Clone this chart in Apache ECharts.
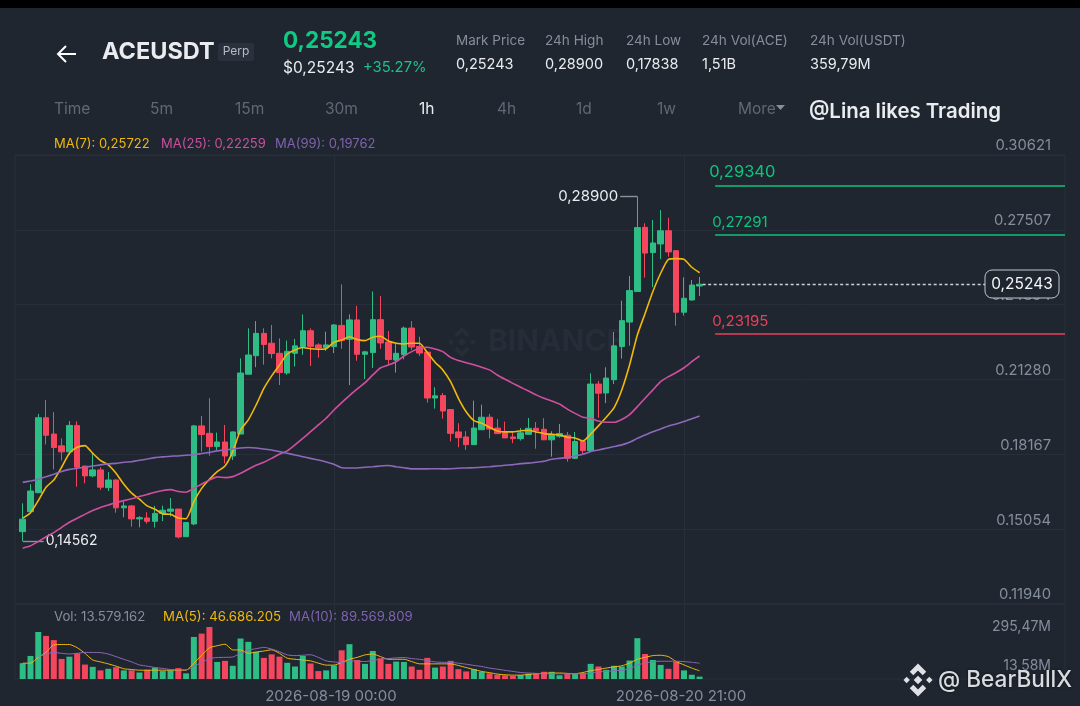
<!DOCTYPE html>
<html>
<head>
<meta charset="utf-8">
<style>html,body{margin:0;padding:0;background:#000}#c{width:1080px;height:706px}</style>
<script src="https://cdn.jsdelivr.net/npm/echarts@6/dist/echarts.min.js"></script>
</head>
<body>
<div id="c"></div>
<script>
const opens = [.1495,.1578,.1657,.1969,.1901,.1852,.1827,.1937,.1768,.1727,
.1752,.1678,.1710,.1594,.1602,.1548,.1552,.1538,.1571,.1580,
.1589,.1474,.1527,.1935,.1904,.1849,.1868,.1810,.1901,.2150,
.2227,.2320,.2279,.2237,.2155,.2237,.2265,.2331,.2272,.2261,
.2265,.2353,.2295,.2376,.2233,.2240,.2377,.2284,.2209,.2231,
.2342,.2266,.2242,.2051,.2061,.2003,.1910,.1889,.1857,.1919,
.1971,.1926,.1907,.1889,.1882,.1900,.1925,.1921,.1877,.1892,
.1896,.1800,.1870,.1832,.2109,.2072,.2127,.2265,.2367,.2494,
.2761,.2656,.2692,.2747,.2664,.2408,.2459,.2517];
const highs = [.1613,.1692,.1985,.2043,.1992,.1883,.1955,.1954,.1768,.1818,
.1763,.1743,.1713,.1620,.1606,.1560,.1576,.1602,.1603,.1635,
.1589,.1533,.1939,.1976,.2050,.1907,.1939,.1912,.2216,.2341,
.2371,.2341,.2355,.2299,.2290,.2297,.2399,.2341,.2279,.2327,
.2359,.2524,.2399,.2434,.2247,.2494,.2475,.2330,.2276,.2348,
.2371,.2306,.2242,.2096,.2072,.2003,.1946,.1913,.2040,.2023,
.1985,.1964,.1953,.1907,.1926,.1968,.1951,.1967,.1913,.1943,
.1910,.1910,.1872,.2154,.2122,.2179,.2326,.2456,.2559,.2890,
.2778,.2792,.2833,.2801,.2667,.2553,.2542,.2555];
const lows = [.14562,.1570,.1657,.1858,.1754,.1791,.1814,.1682,.1696,.1721,
.1669,.1664,.1574,.1555,.1516,.1513,.1528,.1512,.1539,.1558,
.1467,.1474,.1522,.1828,.1811,.1835,.1779,.1793,.1901,.2150,
.2179,.2190,.2216,.2105,.2148,.2182,.2231,.2184,.2219,.2247,
.2238,.2256,.2105,.2206,.2130,.2176,.2256,.2190,.2157,.2212,
.2251,.2226,.2032,.2007,.1965,.1870,.1846,.1835,.1856,.1918,
.1883,.1902,.1885,.1863,.1874,.1900,.1840,.1877,.1807,.1886,
.1786,.1797,.1818,.1832,.1969,.2030,.2109,.2215,.2269,.2494,
.2552,.2512,.2629,.2639,.2352,.2394,.2456,.2475];
const closes = [.1547,.1664,.1969,.1896,.1845,.1827,.1937,.1763,.1727,.1752,
.1680,.1710,.1594,.1602,.1548,.1553,.1538,.1571,.1584,.1589,
.1473,.1533,.1935,.1899,.1849,.1868,.1810,.1910,.2155,.2230,
.2320,.2274,.2236,.2157,.2245,.2268,.2331,.2266,.2259,.2272,
.2355,.2290,.2376,.2233,.2243,.2377,.2280,.2211,.2237,.2342,
.2263,.2238,.2051,.2060,.1997,.1904,.1886,.1857,.1926,.1971,
.1922,.1903,.1885,.1882,.1906,.1925,.1915,.1877,.1900,.1903,
.1800,.1870,.1832,.2109,.2071,.2134,.2268,.2373,.2498,.2760,
.2654,.2696,.2747,.2659,.2408,.2466,.2521,.25243];
const ma7 = [.1551,.1574,.1624,.1680,.1710,.1763,.1821,.1846,.1853,.1821,
.1791,.1773,.1738,.1692,.1655,.1630,.1602,.1588,.1569,.1567,
.1552,.1549,.1620,.1675,.1713,.1745,.1768,.1828,.1918,.1960,
.2022,.2091,.2143,.2188,.2234,.2251,.2261,.2256,.2254,.2256,
.2283,.2292,.2306,.2294,.2290,.2304,.2308,.2288,.2279,.2276,
.2279,.2279,.2240,.2200,.2168,.2119,.2050,.1994,.1957,.1946,
.1929,.1914,.1910,.1910,.1915,.1917,.1910,.1903,.1900,.1897,
.1888,.1885,.1872,.1901,.1935,.1971,.2010,.2084,.2188,.2313,
.2403,.2494,.2570,.2628,.2631,.2628,.2595,.25722];
const ma25 = [.1426,.1436,.1454,.1474,.1491,.1513,.1534,.1551,.1567,.1583,
.1596,.1606,.1616,.1624,.1632,.1641,.1650,.1659,.1666,.1670,
.1662,.1659,.1675,.1693,.1710,.1723,.1720,.1724,.1738,.1755,
.1771,.1784,.1800,.1817,.1831,.1856,.1883,.1911,.1939,.1967,
.2001,.2032,.2061,.2089,.2115,.2147,.2177,.2188,.2202,.2226,
.2244,.2258,.2262,.2255,.2244,.2220,.2207,.2198,.2189,.2179,
.2168,.2147,.2129,.2112,.2096,.2080,.2064,.2050,.2039,.2026,
.2005,.1987,.1971,.1967,.1955,.1950,.1950,.1962,.1982,.2015,
.2050,.2085,.2119,.2140,.2157,.2177,.2202,.22259];
const ma99 = [.1700,.1706,.1713,.1723,.1734,.1745,.1754,.1759,.1763,.1768,
.1773,.1777,.1779,.1784,.1786,.1792,.1797,.1803,.1806,.1809,
.1810,.1813,.1815,.1820,.1825,.1831,.1835,.1839,.1843,.1845,
.1843,.1839,.1835,.1828,.1821,.1814,.1807,.1800,.1793,.1785,
.1775,.1761,.1760,.1760,.1763,.1765,.1768,.1770,.1765,.1761,
.1756,.1756,.1756,.1757,.1756,.1757,.1759,.1760,.1761,.1763,
.1765,.1768,.1771,.1774,.1778,.1780,.1784,.1788,.1796,.1800,
.1804,.1810,.1817,.1828,.1835,.1842,.1849,.1856,.1867,.1883,
.1897,.1911,.1922,.1935,.1943,.1953,.1965,.19762];
const volumes = [90,131,267,245,221,114,127,146,82,69,
49,58,67,49,49,37,52,65,45,49,
62,32,239,258,295.47,97,103,75,230,211,
155,120,140,127,92,71,131,88,45,49,
77,163,198,108,86,159,118,86,99,97,
71,52,120,65,71,103,56,43,56,41,
32,24,21,17,22,30,30,41,41,21,
30,28,34,86,71,52,75,71,105,232,
142,108,80,58,99,49,24,13.58];
const volMa5 = [90,90,123,151,194,196,196,178,146,108,
97,86,73,58,54,50,50,50,50,50,
50,50,90,135,178,189,198,165,165,146,
153,159,166,146,118,112,108,103,90,79,
79,94,112,123,137,142,127,112,112,112,
99,86,86,86,86,86,77,65,54,43,
36,28,24,22,22,26,30,32,34,34,
32,30,37,47,54,62,69,75,90,112,
123,133,135,127,99,80,62,46.69];
const volMa10 = [null,null,127,142,151,146,142,146,151,151,
150,142,127,112,97,80,73,65,60,54,
52,52,71,94,116,122,123,125,146,165,
172,180,170,155,137,133,135,138,123,103,
97,94,103,101,99,105,112,116,120,122,
116,112,105,97,95,94,90,84,77,71,
62,56,49,43,37,34,32,30,30,30,
30,30,30,32,41,43,47,49,58,80,
90,99,101,101,101,99,95,89.57];
const priceTicks = [0.1194,0.15054,0.18167,0.2128,0.24394,0.27507,0.30621];
const xTickIndex = [40,85];
const xTickLabels = {40:'2026-08-19 00:00',85:'2026-08-20 21:00'};
const targets = [0.2934,0.27291];
const stop = 0.23195;
const lastPrice = 0.25243;
const highMark = 0.289, lowMark = 0.14562;
const volTickLabels = ['295,47M','13,58M'];

const BG='#1f2630', GRID='#282f3a', UP='#2ebd85', DOWN='#f6465d', LEVELUP='#0fc27c', LEVELDOWN='#e8415a';
const comma = v => v.toFixed(5).replace('.',',');

function T(x,y,text,size,color,weight,extra){
  return {type:'text',x:x,y:y,z:50,silent:true,style:Object.assign({text:text,fontSize:size,fill:color,fontWeight:weight||400,fontFamily:'Inter',verticalAlign:'middle',align:'left'},extra||{})};
}
function diamond(cx,cy,r,fill,z){
  return {type:'polygon',z:z,silent:true,shape:{points:[[cx,cy-r],[cx+r,cy],[cx,cy+r],[cx-r,cy]]},style:{fill:fill}};
}
function logo(cx,cy,u,col,z,w){
  const chev=(s)=>({type:'polyline',z:z,silent:true,shape:{points:[[cx-2.4*u,cy+s*2.4*u],[cx,cy+s*4.8*u],[cx+2.4*u,cy+s*2.4*u]]},style:{stroke:col,lineWidth:w,fill:null}});
  return [diamond(cx,cy,1.6*u,col,z),diamond(cx-4.2*u,cy,1.2*u,col,z),diamond(cx+4.2*u,cy,1.2*u,col,z),chev(-1),chev(1)];
}
const MUTED='#848e9c', TAB='#5f6874', BRIGHT='#eaecef';
const graphics = [
  {type:'rect',z:60,silent:true,shape:{x:0,y:0,width:1080,height:8},style:{fill:'#000'}},
  {type:'polyline',z:50,silent:true,shape:{points:[[76,54],[58,54]]},style:{stroke:'#fff',lineWidth:2,fill:null}},
  {type:'polyline',z:50,silent:true,shape:{points:[[66,46],[58,54],[66,62]]},style:{stroke:'#fff',lineWidth:2,fill:null}},
  T(102,52,'ACEUSDT',23.5,BRIGHT,700),
  {type:'rect',z:49,silent:true,shape:{x:218,y:43,width:36,height:18,r:2},style:{fill:'#2a313c'}},
  T(236,51.5,'Perp',12,'#b7bdc6',400,{align:'center'}),
  T(283,41,'0,25243',22.5,'#10c983',700),
  T(283,68,'$0,25243',15.5,BRIGHT),
  T(363,68,'+35.27%',14.8,'#1fc08a'),
  T(456,41,'Mark Price',13.5,MUTED),T(456,65,'0,25243',14.5,BRIGHT),
  T(545,41,'24h High',13.6,MUTED),T(545,65,'0,28900',14.5,BRIGHT),
  T(626,41,'24h Low',13.5,MUTED),T(626,65,'0,17838',14.5,BRIGHT),
  T(702,41,'24h Vol(ACE)',13.6,MUTED),T(702,65,'1,51B',14.5,BRIGHT),
  T(810,41,'24h Vol(USDT)',13.6,MUTED),T(810,65,'359,79M',14.5,BRIGHT),
  T(54,109,'Time',15.5,TAB),T(150,109,'5m',15.5,TAB),T(235,109,'15m',15.5,TAB),T(325,109,'30m',15.5,TAB),
  T(419,109,'1h',15.5,BRIGHT),T(497,109,'4h',15.5,TAB),T(576,109,'1d',15.5,TAB),T(657,109,'1w',15.5,TAB),T(738,109,'More',15.5,TAB),
  {type:'polygon',z:50,silent:true,shape:{points:[[776,105],[785,105],[780.5,110]]},style:{fill:'#848e9c'}},
  T(809,112,'@Lina likes Trading',20.4,BRIGHT,600),
  T(54,144,'MA(7): 0,25722',13,'#f0b90b'),T(161,144,'MA(25): 0,22259',13,'#c94f9f'),T(275,144,'MA(99): 0,19762',13,'#7e62ad'),
  T(54,617,'Vol: 13.579.162',13.2,MUTED),T(163,617,'MA(5): 46.686.205',13.2,'#f0b90b'),T(289,617,'MA(10): 89.569.809',13.2,'#7e62ad'),
  T(1051,627,volTickLabels[0],14,MUTED,400,{align:'right'}),
  T(1051,666,volTickLabels[1],14,MUTED,400,{align:'right'}),
  T(488,342,'BINANCE',30,'#262d38',700,{}),
  {type:'rect',z:70,silent:true,shape:{x:985,y:270,width:74,height:28,r:7},style:{fill:BG,stroke:'#c3c7cd',lineWidth:1}},
  T(1022,284.5,comma(lastPrice),15.5,'#f5f5f5',400,{align:'center'}),
  T(938,680,'@ BearBullX',22.6,'#d9dcdf',500,{letterSpacing:0.4,textShadowColor:'rgba(0,0,0,.6)',textShadowBlur:3})
];
graphics[graphics.length-2].z=71; graphics[graphics.length-1].z=72;
graphics[graphics.length-4].z=0;
logo(462,342,2.6,'#262d38',0,4).forEach(g=>graphics.push(g));
logo(918,680,2.7,'#dfe1e4',72,5).forEach(g=>graphics.push(g));

const xMin=-0.99,xMax=133.97;
const idx=opens.map((_,i)=>i);
const levelLine=(v,col,x0,size)=>[{coord:[89,v],lineStyle:{color:col,width:1.6,type:'solid'},
  label:{show:true,position:'insideStartTop',formatter:comma(v),color:col,fontSize:size,fontFamily:'Inter',distance:[x0,5]}},{coord:[xMax,v]}];
const option={
  animation:false,
  backgroundColor:BG,
  graphic:graphics,
  grid:[
    {left:15,width:1050,top:155,height:449,show:true,borderColor:GRID,borderWidth:1},
    {left:15,width:1050,top:604,height:75,show:true,borderColor:GRID,borderWidth:1}
  ],
  xAxis:[
    {type:'value',gridIndex:0,min:xMin,max:xMax,axisLine:{show:false},axisTick:{show:false,customValues:xTickIndex},axisLabel:{show:false,customValues:xTickIndex},splitLine:{show:true,lineStyle:{color:GRID,width:1}}},
    {type:'value',gridIndex:1,min:xMin,max:xMax,axisLine:{show:false},axisTick:{show:false,customValues:xTickIndex},
      axisLabel:{show:true,customValues:xTickIndex,formatter:v=>xTickLabels[v],color:MUTED,fontSize:15,fontFamily:'Inter',margin:10,padding:[0,6,0,0]},
      splitLine:{show:true,lineStyle:{color:GRID,width:1}}}
  ],
  yAxis:[
    {type:'value',gridIndex:0,position:'right',min:0.1194,max:0.30621,axisLine:{show:false},axisTick:{show:false,customValues:priceTicks},
      axisLabel:{show:true,inside:true,customValues:priceTicks,formatter:v=>v.toFixed(5),color:MUTED,fontSize:14.8,fontFamily:'Inter',margin:14,verticalAlign:'bottom',lineHeight:18},
      splitLine:{show:true,lineStyle:{color:GRID,width:1}}},
    {type:'value',gridIndex:1,position:'right',min:0,max:426.2,axisLine:{show:false},axisTick:{show:false},axisLabel:{show:false},splitLine:{show:false}}
  ],
  series:[
    {type:'candlestick',xAxisIndex:0,yAxisIndex:0,barWidth:6,z:3,
      data:idx.map(i=>[i,opens[i],closes[i],lows[i],highs[i]]),
      itemStyle:{color:UP,color0:DOWN,borderColor:UP,borderColor0:DOWN,borderWidth:1},
      markLine:{silent:true,symbol:'none',animation:false,data:[
        levelLine(targets[0],LEVELUP,-6,16.5),
        levelLine(targets[1],LEVELUP,-3,15),
        levelLine(stop,LEVELDOWN,-3,15),
        [{coord:[87.4,lastPrice],lineStyle:{color:'#cdd0d4',width:1.3,type:[3,2.5]},label:{show:false}},{coord:[123.7,lastPrice]}],
        [{coord:[79,highMark],lineStyle:{color:'#8b929b',width:1.4,type:'solid'},label:{show:true,position:'end',formatter:comma(highMark),color:BRIGHT,fontSize:15,fontFamily:'Inter',distance:2}},{coord:[76.8,highMark]}],
        [{coord:[0,lowMark],lineStyle:{color:'#8b929b',width:1.4,type:'solid'},label:{show:true,position:'end',formatter:comma(lowMark),color:BRIGHT,fontSize:14,fontFamily:'Inter',distance:2}},{coord:[2.7,lowMark]}]
      ]}},
    {type:'line',xAxisIndex:0,yAxisIndex:0,z:5,name:'MA(7)',data:idx.map(i=>[i,ma7[i]]),symbol:'none',smooth:0.2,lineStyle:{color:'#f0b90b',width:1.6}},
    {type:'line',xAxisIndex:0,yAxisIndex:0,z:5,name:'MA(25)',data:idx.map(i=>[i,ma25[i]]),symbol:'none',smooth:0.2,lineStyle:{color:'#d04fa0',width:1.6}},
    {type:'line',xAxisIndex:0,yAxisIndex:0,z:5,name:'MA(99)',data:idx.map(i=>[i,ma99[i]]),symbol:'none',smooth:0.2,lineStyle:{color:'#8d68bb',width:1.6}},
    {type:'bar',xAxisIndex:1,yAxisIndex:1,barWidth:6,z:3,
      data:idx.map(i=>({value:[i,volumes[i]],itemStyle:{color:closes[i]>=opens[i]?UP:DOWN}}))},
    {type:'line',xAxisIndex:1,yAxisIndex:1,z:5,name:'VolMA(5)',data:idx.map(i=>[i,volMa5[i]]),symbol:'none',smooth:0.2,lineStyle:{color:'#f0b90b',width:1}},
    {type:'line',xAxisIndex:1,yAxisIndex:1,z:5,name:'VolMA(10)',data:idx.map(i=>[i,volMa10[i]]),symbol:'none',smooth:0.2,connectNulls:false,lineStyle:{color:'#8d68bb',width:1}}
  ]
};
echarts.init(document.getElementById('c'),null,{renderer:'canvas'}).setOption(option);
</script>
</body>
</html>
